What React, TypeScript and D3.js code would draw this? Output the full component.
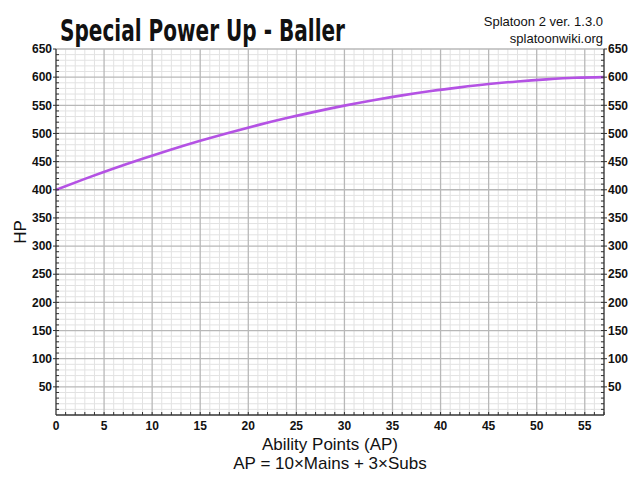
import * as d3 from 'd3';

const apValues = [0, 3, 6, 9, 12, 15, 18, 21, 24, 27, 30, 33, 36, 39, 42, 45, 48, 51, 54, 57];
const hpValues = [400, 419.3, 437.7, 455, 471.4, 486.9, 501.3, 514.8, 527.3, 538.8, 549.4, 559, 567.6, 575.3, 581.9, 587.7, 592.4, 596.1, 598.9, 600];
const xTicks = [0, 5, 10, 15, 20, 25, 30, 35, 40, 45, 50, 55];
const yTicks = [50, 100, 150, 200, 250, 300, 350, 400, 450, 500, 550, 600, 650];

const W = 640;
const H = 484;
const margin = { top: 49, right: 36, bottom: 69, left: 56 };

export default function App() {
  const x = d3.scaleLinear().domain([0, 57]).range([margin.left, W - margin.right]);
  const y = d3.scaleLinear().domain([0, 650]).range([H - margin.bottom, margin.top]);

  const points = apValues.map((ap, i) => ({ ap, hp: hpValues[i] }));
  const line = d3
    .line<{ ap: number; hp: number }>()
    .x((d) => x(d.ap))
    .y((d) => y(d.hp))
    .curve(d3.curveMonotoneX);

  const minorX = d3.range(1, 58).filter((v) => v % 5 !== 0);
  const minorY = d3.range(10, 650, 10).filter((v) => v % 50 !== 0);
  const [x0, x1] = x.range();
  const [y0, y1] = y.range();

  return (
    <svg width={W} height={H} style={{ position: 'absolute', left: 0, top: 0, background: '#fff' }}>
      <rect width={W} height={H} fill="#fff" />
      {/* minor grid */}
      {minorX.map((v) => (
        <line key={'mx' + v} x1={x(v)} x2={x(v)} y1={y0} y2={y1} stroke="#e2e2e2" strokeWidth={1} />
      ))}
      {minorY.map((v) => (
        <line key={'my' + v} x1={x0} x2={x1} y1={y(v)} y2={y(v)} stroke="#e2e2e2" strokeWidth={1} />
      ))}
      {/* major grid */}
      {xTicks.filter((v) => v > 0).map((v) => (
        <line key={'gx' + v} x1={x(v)} x2={x(v)} y1={y0} y2={y1} stroke="#b8b8b8" strokeWidth={1.3} />
      ))}
      {yTicks.map((v) => (
        <line key={'gy' + v} x1={x0} x2={x1} y1={y(v)} y2={y(v)} stroke="#b8b8b8" strokeWidth={1.3} />
      ))}

      {/* curve */}
      <path d={line(points) || ''} fill="none" stroke="#b452e4" strokeWidth={2.6} />

      {/* axes frame */}
      <line x1={x0} x2={x0} y1={y0} y2={y1} stroke="#333" strokeWidth={1.3} />
      <line x1={x1} x2={x1} y1={y0} y2={y1} stroke="#333" strokeWidth={1.3} />
      <line x1={x0} x2={x1} y1={y0} y2={y0} stroke="#333" strokeWidth={1.3} />

      {/* minor ticks */}
      {d3.range(1, 58).map((v) => (
        <line key={'tx' + v} x1={x(v)} x2={x(v)} y1={y0} y2={y0 - 3} stroke="#333" strokeWidth={1} />
      ))}
      {d3.range(10, 650, 10).map((v) => (
        <g key={'ty' + v}>
          <line x1={x0} x2={x0 + 3} y1={y(v)} y2={y(v)} stroke="#333" strokeWidth={1} />
          <line x1={x1} x2={x1 - 3} y1={y(v)} y2={y(v)} stroke="#333" strokeWidth={1} />
        </g>
      ))}
      {/* major ticks outside */}
      {yTicks.map((v) => (
        <g key={'oy' + v}>
          <line x1={x0} x2={x0 - 3} y1={y(v)} y2={y(v)} stroke="#333" strokeWidth={1} />
          <line x1={x1} x2={x1 + 3} y1={y(v)} y2={y(v)} stroke="#333" strokeWidth={1} />
        </g>
      ))}

      {/* tick labels */}
      <g fontFamily="'Liberation Sans', Arial, sans-serif" fontWeight="bold" fontSize={12} fill="#111">
        {yTicks.map((v) => (
          <text key={'ly' + v} x={x0 - 4} y={y(v)} dy="0.35em" textAnchor="end">{v}</text>
        ))}
        {yTicks.map((v) => (
          <text key={'ry' + v} x={x1 + 4} y={y(v)} dy="0.35em" textAnchor="start">{v}</text>
        ))}
        {xTicks.map((v) => (
          <text key={'lx' + v} x={x(v)} y={y0 + 15} textAnchor="middle">{v}</text>
        ))}
      </g>

      {/* axis titles */}
      <g fontFamily="'Liberation Sans', Arial, sans-serif" fill="#111" fontSize={17}>
        <text x={330} y={450} textAnchor="middle">Ability Points (AP)</text>
        <text x={330} y={469} textAnchor="middle">AP = 10×Mains + 3×Subs</text>
        <text transform={`translate(26,${(y0 + y1) / 2}) rotate(-90)`} textAnchor="middle">HP</text>
      </g>

      {/* title */}
      <text
        x={60}
        y={41}
        fontFamily="'Liberation Sans Narrow', 'DejaVu Sans Condensed', sans-serif"
        fontWeight="bold"
        fontSize={30}
        fill="#111"
        textLength={285}
        lengthAdjust="spacingAndGlyphs"
      >
        Special Power Up - Baller
      </text>

      <g fontFamily="'Liberation Sans', Arial, sans-serif" fontSize={13} fill="#111" textAnchor="end">
        <text x={603} y={26}>Splatoon 2 ver. 1.3.0</text>
        <text x={603} y={43}>splatoonwiki.org</text>
      </g>
    </svg>
  );
}
